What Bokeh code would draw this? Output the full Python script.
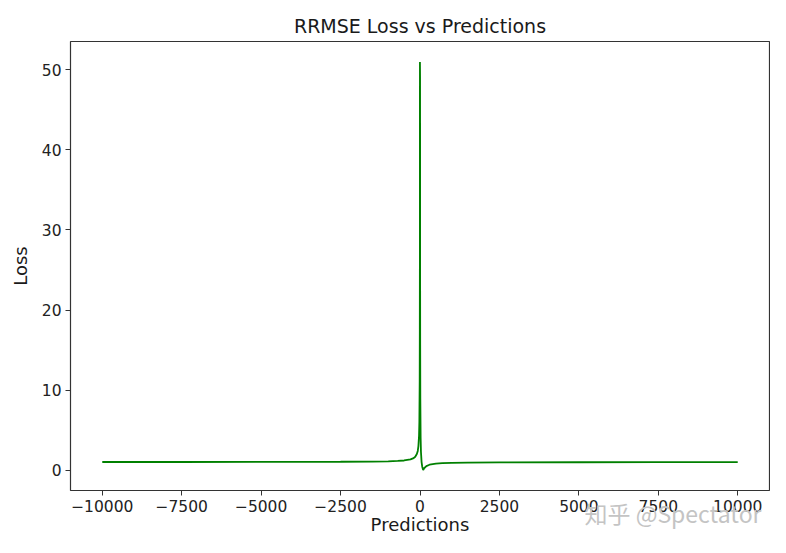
from bokeh.plotting import figure
from bokeh.models import Range1d, FixedTicker, LinearAxis
from bokeh.embed import file_html
from bokeh.resources import INLINE

predictions = [-10000, -7500, -5000, -2500, -1500, -1000, -700, -500, -300, -200,
               -150, -100, -70, -50, -30, -20, -10, -6, -4, -2,
               2, 4, 6, 10, 20, 30, 50, 70, 100, 130,
               200, 300, 500, 700, 1000, 1500, 2500, 5000, 7500, 10000]
loss = [1.01, 1.01, 1.02, 1.04, 1.07, 1.1, 1.14, 1.2, 1.33, 1.5,
        1.67, 2.0, 2.4, 3.0, 4.3, 6.0, 11.0, 17.7, 26.0, 51.0,
        49.0, 24.0, 15.7, 9.0, 4.0, 2.3, 1.0, 0.43, 0.0, 0.23,
        0.5, 0.67, 0.8, 0.86, 0.9, 0.93, 0.96, 0.98, 0.99, 0.99]

x_ticks = [-10000, -7500, -5000, -2500, 0, 2500, 5000, 7500, 10000]
x_tick_labels = ["\u221210000", "\u22127500", "\u22125000", "\u22122500", "0",
                 "2500", "5000", "7500", "10000"]
y_ticks = [0, 10, 20, 30, 40, 50]
watermark = "知乎 @Spectator"

FONT = "DejaVu Sans"

p = figure(width=770, height=537, output_backend="svg", toolbar_location=None,
           x_range=Range1d(-11000, 11000), y_range=Range1d(-2.55, 53.55),
           title="RRMSE Loss vs Predictions",
           min_border_left=70, min_border_right=1, min_border_bottom=46, min_border_top=41)

p.line(predictions, loss, line_color="#008000", line_width=1.8)

p.title.align = "center"
p.title.text_font = FONT
p.title.text_font_size = "19px"
p.title.text_font_style = "normal"
p.title.text_color = "#1a1a1a"

p.xgrid.visible = False
p.ygrid.visible = False
p.outline_line_color = "#333333"
p.outline_line_width = 1.2

for ax in (p.xaxis[0], p.yaxis[0]):
    ax.axis_line_color = None
    ax.major_tick_line_color = "#333333"
    ax.major_tick_out = 5
    ax.major_tick_in = 0
    ax.minor_tick_line_color = None
    ax.major_label_text_font = FONT
    ax.major_label_text_font_size = "15.5px"
    ax.major_label_text_color = "#222222"
    ax.axis_label_text_font = FONT
    ax.axis_label_text_font_size = "18px"
    ax.axis_label_text_font_style = "normal"
    ax.axis_label_text_color = "#1a1a1a"

p.xaxis.ticker = FixedTicker(ticks=x_ticks)
p.xaxis.major_label_overrides = {t: l for t, l in zip(x_ticks, x_tick_labels)}
p.yaxis.ticker = FixedTicker(ticks=y_ticks)
p.xaxis.axis_label = "Predictions"
p.yaxis.axis_label = "Loss"
p.xaxis.major_label_standoff = 4
p.xaxis.axis_label_standoff = -1
p.yaxis.major_label_standoff = 4
p.yaxis.axis_label_standoff = 8

# watermark drawn as an extra, tick-less axis label, shifted right with em spaces
wm_axis = LinearAxis(ticker=FixedTicker(ticks=[]), axis_line_color=None,
                     major_tick_line_color=None, minor_tick_line_color=None,
                     major_label_text_font_size="0px",
                     axis_label="\u2003" * 22 + watermark, axis_label_standoff=-42,
                     axis_label_text_font="Noto Sans CJK SC",
                     axis_label_text_font_size="23px",
                     axis_label_text_font_style="normal",
                     axis_label_text_color="#c4c4c4",
                     axis_label_align="center")
p.add_layout(wm_axis, "below")

open("out.html", "w").write(file_html(p, INLINE))
